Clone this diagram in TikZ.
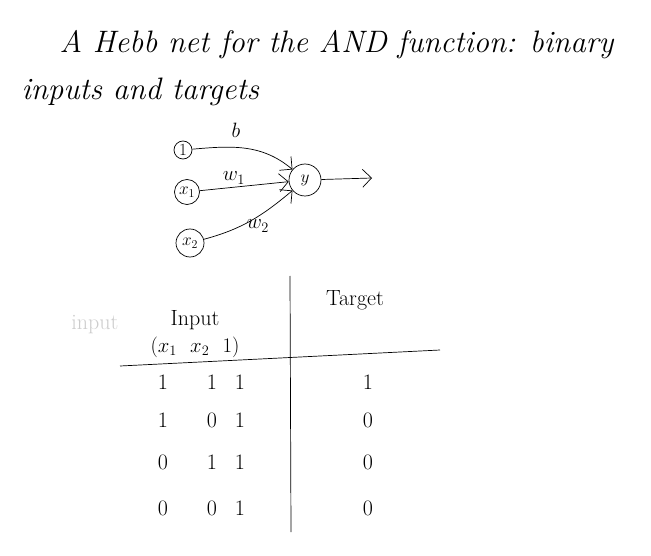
\documentclass[tikz,border=0pt]{standalone}
\usetikzlibrary{arrows.meta}
\begin{document}
\begin{tikzpicture}[x=1pt,y=-1pt,
  unit/.style={draw,circle,inner sep=0pt,font=\fontsize{17}{20}\selectfont,line width=0.7pt},
  conn/.style={-{Straight Barb[length=9pt]},line width=0.7pt},
  txt/.style={font=\fontsize{31}{36}\selectfont\itshape},
  cell/.style={font=\fontsize{22}{26}\selectfont}]
\useasboundingbox (0,0) rectangle (651,556);
\node[txt,anchor=west] (t1) at (56,45) {A Hebb net for the AND function: binary};
\node[txt,anchor=west] (t2) at (18,92) {inputs and targets};
\node[unit,minimum size=18pt] (one) at (183,150) {1};
\node[unit,minimum size=25pt] (x1) at (187,192) {$x_1$};
\node[unit,minimum size=28pt] (x2) at (190,243) {$x_2$};
\node[unit,minimum size=32pt] (y) at (305,180) {$y$};
\coordinate (out) at (372,178);
\draw[conn] (one) to[out=5,in=140] (y);
\draw[conn] (x1) -- (y);
\draw[conn] (x2) to[out=15,in=220] (y);
\draw[conn] (y) -- (out);
\node[font=\fontsize{20}{24}\selectfont] (lb) at (236,130) {$b$};
\node[font=\fontsize{20}{24}\selectfont] (lw1) at (234,178) {$w_1$};
\node[font=\fontsize{20}{24}\selectfont] (lw2) at (258,226) {$w_2$};
\coordinate (v1) at (290,276);
\coordinate (v2) at (291,532);
\coordinate (h1) at (120,366);
\coordinate (h2) at (440,350);
\draw[line width=0.7pt] (v1) -- (v2);
\draw[line width=0.7pt] (h1) -- (h2);
\node[cell,text=black!20] (ghost) at (95,325) {input};
\node[cell] (inp) at (195,320) {Input};
\node[cell] (sub) at (195,347) {$(x_1\ \ x_2\ \ 1)$};
\node[cell] (tg) at (355,300) {Target};
\foreach \r/\yy/\a/\b/\t in {1/382/1/1/1,2/420/1/0/0,3/462/0/1/0,4/508/0/0/0}{
  \node[cell] (a\r) at (163,\yy) {\a};
  \node[cell] (b\r) at (212,\yy) {\b};
  \node[cell] (c\r) at (240,\yy) {1};
  \node[cell] (d\r) at (368,\yy) {\t};
}
\end{tikzpicture}
\end{document}
